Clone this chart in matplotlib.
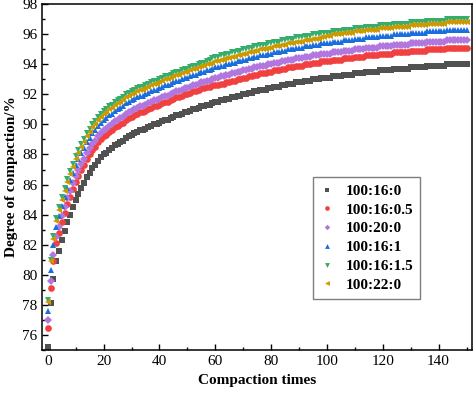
import numpy as np
import matplotlib
matplotlib.use("Agg")
import matplotlib.pyplot as plt
from matplotlib.ticker import MultipleLocator

plt.rcParams['font.family'] = ['Liberation Serif', 'DejaVu Serif']

# compaction times 0..150
times = np.arange(0, 151)

labels = ['100:16:0', '100:16:0.5', '100:20:0', '100:16:1', '100:16:1.5', '100:22:0']

s_16_0 = [
    75.2, 78.1, 79.7, 80.9, 81.6, 82.3, 82.9, 83.5, 84.0, 84.5,
    85.0, 85.4, 85.8, 86.1, 86.5, 86.8, 87.1, 87.3, 87.6, 87.8,
    88.0, 88.1, 88.3, 88.4, 88.6, 88.7, 88.8, 88.9, 89.1, 89.2,
    89.3, 89.4, 89.5, 89.6, 89.6, 89.7, 89.8, 89.9, 90.0, 90.0,
    90.1, 90.2, 90.3, 90.3, 90.4, 90.5, 90.6, 90.6, 90.7, 90.8,
    90.8, 90.9, 91.0, 91.0, 91.1, 91.2, 91.2, 91.3, 91.3, 91.4,
    91.5, 91.5, 91.6, 91.6, 91.7, 91.7, 91.8, 91.8, 91.9, 91.9,
    92.0, 92.0, 92.1, 92.1, 92.2, 92.2, 92.3, 92.3, 92.3, 92.4,
    92.4, 92.5, 92.5, 92.5, 92.6, 92.6, 92.7, 92.7, 92.7, 92.8,
    92.8, 92.8, 92.9, 92.9, 92.9, 93.0, 93.0, 93.0, 93.1, 93.1,
    93.1, 93.1, 93.2, 93.2, 93.2, 93.2, 93.3, 93.3, 93.3, 93.3,
    93.4, 93.4, 93.4, 93.4, 93.5, 93.5, 93.5, 93.5, 93.5, 93.6,
    93.6, 93.6, 93.6, 93.6, 93.7, 93.7, 93.7, 93.7, 93.7, 93.7,
    93.8, 93.8, 93.8, 93.8, 93.8, 93.8, 93.9, 93.9, 93.9, 93.9,
    93.9, 93.9, 93.9, 94.0, 94.0, 94.0, 94.0, 94.0, 94.0, 94.0,
    94.0]

s_16_05 = [
    76.5, 79.1, 80.9, 82.1, 82.8, 83.5, 84.1, 84.7, 85.2, 85.7,
    86.2, 86.6, 87.0, 87.3, 87.7, 88.0, 88.3, 88.5, 88.8, 89.0,
    89.2, 89.3, 89.5, 89.6, 89.8, 89.9, 90.0, 90.1, 90.3, 90.4,
    90.5, 90.6, 90.7, 90.8, 90.8, 90.9, 91.0, 91.1, 91.2, 91.2,
    91.3, 91.4, 91.5, 91.5, 91.6, 91.7, 91.8, 91.8, 91.9, 92.0,
    92.0, 92.1, 92.2, 92.2, 92.3, 92.4, 92.4, 92.5, 92.5, 92.6,
    92.6, 92.6, 92.7, 92.7, 92.8, 92.8, 92.9, 92.9, 93.0, 93.0,
    93.1, 93.1, 93.2, 93.2, 93.3, 93.3, 93.4, 93.4, 93.4, 93.5,
    93.5, 93.6, 93.6, 93.6, 93.7, 93.7, 93.8, 93.8, 93.8, 93.9,
    93.9, 93.9, 94.0, 94.0, 94.0, 94.1, 94.1, 94.1, 94.2, 94.2,
    94.2, 94.2, 94.3, 94.3, 94.3, 94.3, 94.4, 94.4, 94.4, 94.4,
    94.5, 94.5, 94.5, 94.5, 94.6, 94.6, 94.6, 94.6, 94.6, 94.7,
    94.7, 94.7, 94.7, 94.7, 94.8, 94.8, 94.8, 94.8, 94.8, 94.8,
    94.9, 94.9, 94.9, 94.9, 94.9, 94.9, 95.0, 95.0, 95.0, 95.0,
    95.0, 95.0, 95.0, 95.1, 95.1, 95.1, 95.1, 95.1, 95.1, 95.1,
    95.1]

s_20_0 = [
    77.0, 79.6, 81.3, 82.5, 83.2, 83.9, 84.5, 85.1, 85.6, 86.1,
    86.6, 87.0, 87.4, 87.7, 88.1, 88.4, 88.7, 88.9, 89.2, 89.4,
    89.6, 89.7, 89.9, 90.0, 90.2, 90.3, 90.4, 90.5, 90.7, 90.8,
    90.9, 91.0, 91.1, 91.2, 91.2, 91.3, 91.4, 91.5, 91.6, 91.6,
    91.7, 91.8, 91.9, 91.9, 92.0, 92.1, 92.2, 92.2, 92.3, 92.4,
    92.4, 92.5, 92.6, 92.6, 92.7, 92.8, 92.8, 92.9, 92.9, 93.0,
    93.1, 93.1, 93.2, 93.2, 93.3, 93.3, 93.4, 93.4, 93.5, 93.5,
    93.6, 93.6, 93.7, 93.7, 93.8, 93.8, 93.9, 93.9, 93.9, 94.0,
    94.0, 94.1, 94.1, 94.1, 94.2, 94.2, 94.3, 94.3, 94.3, 94.4,
    94.4, 94.4, 94.5, 94.5, 94.5, 94.6, 94.6, 94.6, 94.7, 94.7,
    94.7, 94.7, 94.8, 94.8, 94.8, 94.8, 94.9, 94.9, 94.9, 94.9,
    95.0, 95.0, 95.0, 95.0, 95.1, 95.1, 95.1, 95.1, 95.1, 95.2,
    95.2, 95.2, 95.2, 95.2, 95.3, 95.3, 95.3, 95.3, 95.3, 95.3,
    95.4, 95.4, 95.4, 95.4, 95.4, 95.4, 95.5, 95.5, 95.5, 95.5,
    95.5, 95.5, 95.5, 95.6, 95.6, 95.6, 95.6, 95.6, 95.6, 95.6,
    95.6]

s_16_1 = [
    77.6, 80.3, 82.0, 83.2, 83.9, 84.6, 85.2, 85.8, 86.3, 86.8,
    87.3, 87.7, 88.1, 88.4, 88.8, 89.1, 89.4, 89.6, 89.9, 90.1,
    90.3, 90.4, 90.6, 90.7, 90.9, 91.0, 91.1, 91.2, 91.4, 91.5,
    91.6, 91.7, 91.8, 91.9, 91.9, 92.0, 92.1, 92.2, 92.3, 92.3,
    92.4, 92.5, 92.6, 92.6, 92.7, 92.8, 92.9, 92.9, 93.0, 93.1,
    93.1, 93.2, 93.3, 93.3, 93.4, 93.5, 93.5, 93.6, 93.6, 93.7,
    93.8, 93.8, 93.9, 93.9, 94.0, 94.0, 94.1, 94.1, 94.2, 94.2,
    94.3, 94.3, 94.4, 94.4, 94.5, 94.5, 94.6, 94.6, 94.6, 94.7,
    94.7, 94.8, 94.8, 94.8, 94.9, 94.9, 95.0, 95.0, 95.0, 95.1,
    95.1, 95.1, 95.2, 95.2, 95.2, 95.3, 95.3, 95.3, 95.4, 95.4,
    95.4, 95.4, 95.5, 95.5, 95.5, 95.5, 95.6, 95.6, 95.6, 95.6,
    95.7, 95.7, 95.7, 95.7, 95.8, 95.8, 95.8, 95.8, 95.8, 95.9,
    95.9, 95.9, 95.9, 95.9, 96.0, 96.0, 96.0, 96.0, 96.0, 96.0,
    96.1, 96.1, 96.1, 96.1, 96.1, 96.1, 96.2, 96.2, 96.2, 96.2,
    96.2, 96.2, 96.2, 96.3, 96.3, 96.3, 96.3, 96.3, 96.3, 96.3,
    96.3]

s_16_15 = [
    78.3, 81.0, 82.6, 83.8, 84.5, 85.2, 85.8, 86.4, 86.9, 87.4,
    87.9, 88.3, 88.7, 89.0, 89.4, 89.7, 90.0, 90.2, 90.5, 90.7,
    90.9, 91.0, 91.2, 91.3, 91.5, 91.6, 91.7, 91.8, 92.0, 92.1,
    92.2, 92.3, 92.4, 92.5, 92.5, 92.6, 92.7, 92.8, 92.9, 92.9,
    93.0, 93.1, 93.2, 93.2, 93.3, 93.4, 93.5, 93.5, 93.6, 93.7,
    93.7, 93.8, 93.9, 93.9, 94.0, 94.1, 94.1, 94.2, 94.3, 94.4,
    94.5, 94.5, 94.6, 94.6, 94.7, 94.7, 94.8, 94.8, 94.9, 94.9,
    95.0, 95.0, 95.1, 95.1, 95.2, 95.2, 95.3, 95.3, 95.3, 95.4,
    95.4, 95.5, 95.5, 95.5, 95.6, 95.6, 95.7, 95.7, 95.7, 95.8,
    95.8, 95.8, 95.9, 95.9, 95.9, 96.0, 96.0, 96.0, 96.1, 96.1,
    96.1, 96.1, 96.2, 96.2, 96.2, 96.2, 96.3, 96.3, 96.3, 96.3,
    96.4, 96.4, 96.4, 96.4, 96.5, 96.5, 96.5, 96.5, 96.5, 96.6,
    96.6, 96.6, 96.6, 96.6, 96.7, 96.7, 96.7, 96.7, 96.7, 96.7,
    96.8, 96.8, 96.8, 96.8, 96.8, 96.8, 96.9, 96.9, 96.9, 96.9,
    96.9, 96.9, 96.9, 97.0, 97.0, 97.0, 97.0, 97.0, 97.0, 97.0,
    97.0]

s_22_0 = [
    78.2, 80.9, 82.4, 83.6, 84.3, 85.0, 85.6, 86.2, 86.7, 87.2,
    87.7, 88.1, 88.5, 88.8, 89.2, 89.5, 89.8, 90.0, 90.3, 90.5,
    90.7, 90.8, 91.0, 91.1, 91.3, 91.4, 91.5, 91.6, 91.8, 91.9,
    92.0, 92.1, 92.2, 92.3, 92.3, 92.4, 92.5, 92.6, 92.7, 92.7,
    92.8, 92.9, 93.0, 93.0, 93.1, 93.2, 93.3, 93.3, 93.4, 93.5,
    93.5, 93.6, 93.7, 93.7, 93.8, 93.9, 93.9, 94.0, 94.0, 94.1,
    94.2, 94.2, 94.3, 94.3, 94.4, 94.4, 94.5, 94.5, 94.6, 94.6,
    94.7, 94.7, 94.8, 94.8, 94.9, 94.9, 95.0, 95.0, 95.0, 95.1,
    95.1, 95.2, 95.2, 95.2, 95.3, 95.3, 95.4, 95.4, 95.4, 95.5,
    95.5, 95.5, 95.6, 95.6, 95.6, 95.7, 95.7, 95.7, 95.8, 95.8,
    95.9, 95.9, 96.0, 96.0, 96.0, 96.0, 96.1, 96.1, 96.1, 96.1,
    96.2, 96.2, 96.2, 96.2, 96.3, 96.3, 96.3, 96.3, 96.3, 96.4,
    96.4, 96.4, 96.4, 96.4, 96.5, 96.5, 96.5, 96.5, 96.5, 96.5,
    96.6, 96.6, 96.6, 96.6, 96.6, 96.6, 96.7, 96.7, 96.7, 96.7,
    96.7, 96.7, 96.7, 96.8, 96.8, 96.8, 96.8, 96.8, 96.8, 96.8,
    96.8]

series = [s_16_0, s_16_05, s_20_0, s_16_1, s_16_15, s_22_0]
colors = ['#515151', '#F14040', '#B177DE', '#1A6FDF', '#37AD6B', '#CC9900']
markers = ['s', 'o', 'D', '^', 'v', '<']
sizes = [4.4, 4.8, 4.0, 5.0, 5.0, 5.0]

fig = plt.figure(figsize=(4.74, 3.97), dpi=100)
ax = fig.add_axes([0.089, 0.118, 0.907, 0.872])

for vals, c, m, ms, lab in zip(series, colors, markers, sizes, labels):
    ax.plot(times, vals, linestyle='none', marker=m, color=c, markersize=ms,
            markeredgewidth=0, label=lab)

ax.set_xlim(-2, 152)
ax.set_ylim(75, 98)
ax.xaxis.set_major_locator(MultipleLocator(20))
ax.xaxis.set_minor_locator(MultipleLocator(10))
ax.yaxis.set_major_locator(MultipleLocator(2))
ax.yaxis.set_minor_locator(MultipleLocator(1))
ax.tick_params(which='both', direction='in', top=False, right=False,
               labelsize=11, width=1.0)
ax.tick_params(which='major', length=4.5)
ax.tick_params(which='minor', length=2.5)
for sp in ax.spines.values():
    sp.set_linewidth(1.1)

ax.set_xlabel('Compaction times', fontsize=11, fontweight='bold', labelpad=4)
ax.set_ylabel('Degree of compaction/%', fontsize=11, fontweight='bold', labelpad=3)

leg = ax.legend(loc='upper left', bbox_to_anchor=(0.611, 0.521), fancybox=False,
                edgecolor='#7f7f7f', prop={'weight': 'bold', 'size': 11},
                handlelength=1.0, handletextpad=0.7, labelspacing=0.33,
                borderpad=0.45, markerscale=0.7, framealpha=1)
leg.get_frame().set_linewidth(1.0)

fig.savefig('out.png', dpi=100)
